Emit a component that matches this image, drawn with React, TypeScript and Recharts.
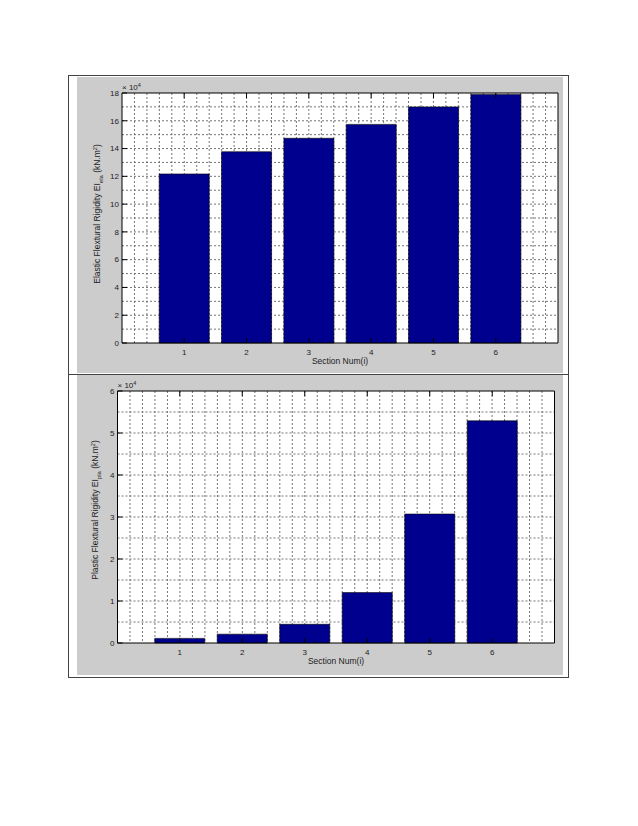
import { BarChart, Bar, XAxis, YAxis, CartesianGrid } from 'recharts';

// Section numbers on the x axis
const sections = ['1', '2', '3', '4', '5', '6'];

// Rigidity values in kN.m^2 (axes are x 10^4)
const elasticRigidity = [121700, 137700, 147400, 157400, 170000, 179000];
const plasticRigidity = [1100, 2100, 4450, 12000, 30700, 52900];

const elasticTicks = [0, 20000, 40000, 60000, 80000, 100000, 120000, 140000, 160000, 180000];
const plasticTicks = [0, 10000, 20000, 30000, 40000, 50000, 60000];

const elasticData = sections.map((s, i) => ({ section: s, value: elasticRigidity[i] }));
const plasticData = sections.map((s, i) => ({ section: s, value: plasticRigidity[i] }));

const BAR_FILL = '#00008f';
const FONT = '"Liberation Sans", Arial, sans-serif';
const TEXT = '#222';
const GRAY = '#cccccc';

// x axis runs 0..7 in MATLAB units, bars sit at 1..6
const X_UNITS = 7;
const X_GRID_STEP = 0.2;

function vGrid(offset: any) {
  const out: number[] = [];
  const n = Math.round(X_UNITS / X_GRID_STEP);
  for (let i = 1; i < n; i++) out.push(offset.left + (offset.width * i) / n);
  return out;
}

function hGrid(offset: any, divisions: number) {
  const out: number[] = [];
  for (let i = 1; i < divisions; i++) out.push(offset.top + (offset.height * i) / divisions);
  return out;
}

function BottomTick({ x, y, payload }: any) {
  const axisY = y - 6;
  return (
    <g>
      <line x1={x} x2={x} y1={axisY} y2={axisY - 5} stroke="#000" />
      <text x={x} y={y} dy="0.71em" textAnchor="middle" fontSize={8} fill={TEXT} fontFamily={FONT}>
        {payload.value}
      </text>
    </g>
  );
}

const leftTick = (fmt: (v: number) => string) => ({ x, y, payload }: any) => {
  const axisX = x + 3;
  return (
    <g>
      <line x1={axisX} x2={axisX + 5} y1={y} y2={y} stroke="#000" />
      <text x={x} y={y} dy="0.35em" textAnchor="end" fontSize={8} fill={TEXT} fontFamily={FONT}>
        {fmt(payload.value)}
      </text>
    </g>
  );
};

function TopTick({ x, y }: any) {
  return <line x1={x} x2={x} y1={y} y2={y + 5} stroke="#000" />;
}

function RightTick({ x, y }: any) {
  return <line x1={x} x2={x - 5} y1={y} y2={y} stroke="#000" />;
}

const yTitle = (main: string, sub: string, dx: number, dy: number) => (props: any) => {
  const vb = props.viewBox;
  const cx = vb.x + dx;
  const cy = vb.y + vb.height / 2 + dy;
  return (
    <g>
      <text
        x={cx}
        y={cy}
        transform={`rotate(-90 ${cx} ${cy})`}
        textAnchor="middle"
        fontSize={8.5}
        fill={TEXT}
        fontFamily={FONT}
      >
        {main}
        <tspan fontSize={6} dy={2.5}>{sub}</tspan>
        <tspan dy={-2.5}> (kN.m</tspan>
        <tspan fontSize={5.5} dy={-3}>2</tspan>
        <tspan dy={3}>)</tspan>
      </text>
      <text x={vb.x + vb.width} y={vb.y - 3} fontSize={8} fill={TEXT} fontFamily={FONT}>
        × 10<tspan fontSize={5.5} dy={-3}>4</tspan>
      </text>
    </g>
  );
};

function Panel({ data, ticks, width, height, margin, xHeight, yWidth, padding, title, sub, titleDx, titleDy, xLabelOffset }: any) {
  const max = ticks[ticks.length - 1];
  const fmt = (v: number) => String(v / 10000);
  const hDiv = (ticks.length - 1) * 2;
  return (
    <BarChart width={width} height={height} data={data} margin={margin} barCategoryGap="10%">
      <CartesianGrid
        fill="#fff"
        fillOpacity={1}
        stroke="#666"
        strokeDasharray="2 2"
        strokeWidth={0.9}
        verticalCoordinatesGenerator={({ offset }: any) => vGrid(offset)}
        horizontalCoordinatesGenerator={({ offset }: any) => hGrid(offset, hDiv)}
      />
      <XAxis
        dataKey="section"
        padding={padding}
        tickLine={false}
        tickSize={0}
        tickMargin={6}
        tick={<BottomTick />}
        axisLine={{ stroke: '#000' }}
        height={xHeight}
        interval={0}
        label={{
          value: 'Section Num(i)',
          position: 'insideBottom',
          offset: xLabelOffset,
          style: { fontSize: 8.5, fill: TEXT, fontFamily: FONT },
        }}
      />
      <XAxis
        xAxisId="top"
        orientation="top"
        dataKey="section"
        padding={padding}
        height={1}
        tickLine={false}
        tickSize={0}
        tickMargin={0}
        tick={<TopTick />}
        axisLine={{ stroke: '#000' }}
        interval={0}
      />
      <YAxis
        type="number"
        domain={[0, max]}
        ticks={ticks}
        width={yWidth}
        tickLine={false}
        tickSize={0}
        tickMargin={3}
        tick={leftTick(fmt)}
        axisLine={{ stroke: '#000' }}
        interval={0}
        label={{ content: yTitle(title, sub, titleDx, titleDy) }}
      />
      <YAxis
        yAxisId="right"
        orientation="right"
        type="number"
        domain={[0, max]}
        ticks={ticks}
        width={1}
        tickLine={false}
        tickSize={0}
        tickMargin={0}
        tick={<RightTick />}
        axisLine={{ stroke: '#000' }}
        interval={0}
      />
      <Bar dataKey="value" fill={BAR_FILL} stroke="#000" strokeWidth={0.6} isAnimationActive={false} />
    </BarChart>
  );
}

export default function App() {
  return (
    <div style={{ position: 'absolute', left: 0, top: 0, width: 638, height: 826, background: '#fff' }}>
      <div
        style={{
          position: 'absolute',
          left: 68,
          top: 75,
          width: 499,
          height: 601,
          border: '1px solid #444',
        }}
      />
      <div style={{ position: 'absolute', left: 68, top: 374, width: 501, height: 1, background: '#444' }} />
      <div style={{ position: 'absolute', left: 77, top: 77, width: 486, height: 296, background: GRAY }}>
        <Panel
          data={elasticData}
          ticks={elasticTicks}
          width={486}
          height={296}
          margin={{ top: 15, right: 4, left: 0, bottom: 0 }}
          xHeight={30}
          yWidth={45}
          padding={{ left: 31, right: 31 }}
          title="Elastic Flextural Rigidity EI"
          sub="ela"
          titleDx={23}
          titleDy={-4}
          xLabelOffset={9}
        />
      </div>
      <div style={{ position: 'absolute', left: 77, top: 375, width: 486, height: 300, background: GRAY }}>
        <Panel
          data={plasticData}
          ticks={plasticTicks}
          width={486}
          height={300}
          margin={{ top: 15, right: 7.5, left: 0, bottom: 0 }}
          xHeight={32}
          yWidth={40.5}
          padding={{ left: 31, right: 31 }}
          title="Plastic Flextural Rigidity EI"
          sub="pla"
          titleDx={21}
          titleDy={-7}
          xLabelOffset={11}
        />
      </div>
    </div>
  );
}
